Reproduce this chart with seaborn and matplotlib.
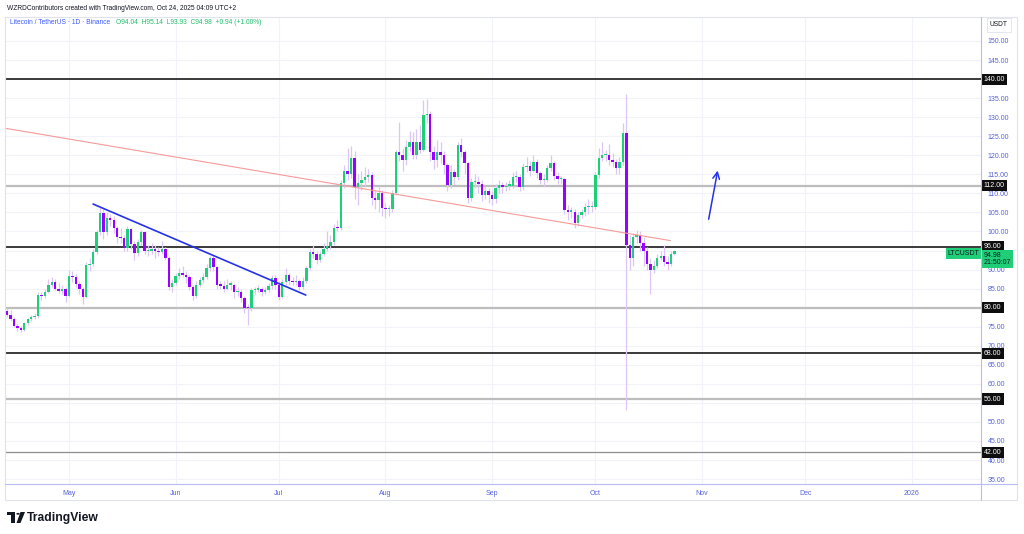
import numpy as np
import pandas as pd
import matplotlib
matplotlib.use("Agg")
import matplotlib.pyplot as plt
import matplotlib.dates as mdates
from matplotlib.lines import Line2D
from matplotlib.patches import Rectangle, Polygon, Circle
import seaborn as sns

# --- data (Apr 13 -> Oct 24, 2025) ---
start_date = "2025-04-13"
first_open = 79.0
closes = [
    78.1, 77.0, 75.3, 74.6, 74.2, 75.9, 76.9, 77.5, 77.8, 83.3,
    83.0, 84.2, 86.0, 86.8, 85.0, 84.4, 84.8, 83.0, 88.3, 88.0,
    86.2, 84.9, 82.8, 91.2, 91.5, 94.6, 99.8, 104.8, 99.8, 103.5,
    103.0, 100.8, 98.5, 98.3, 95.6, 100.6, 96.7, 94.3, 97.2, 99.8,
    94.8, 95.0, 95.5, 95.0, 94.5, 95.3, 93.0, 85.4, 86.5, 88.3,
    89.0, 88.5, 88.0, 85.4, 83.0, 86.0, 87.2, 88.0, 90.4, 93.0,
    90.7, 86.0, 85.8, 85.0, 86.0, 86.0, 84.0, 84.2, 82.5, 80.0,
    79.8, 84.6, 84.7, 85.0, 84.0, 84.5, 85.7, 87.8, 86.0, 82.8,
    86.7, 88.6, 87.0, 86.7, 87.0, 85.4, 87.0, 90.4, 94.6, 94.2,
    92.5, 94.2, 95.4, 96.2, 97.2, 101.0, 100.9, 112.7, 116.0, 115.0,
    119.3, 111.7, 112.6, 113.5, 114.4, 114.8, 108.8, 108.3, 110.1, 106.1,
    105.8, 105.8, 110.1, 120.8, 120.0, 118.7, 122.2, 123.5, 120.0, 123.5,
    121.5, 130.5, 130.8, 120.8, 118.7, 120.8, 120.2, 117.4, 112.2, 115.6,
    114.3, 122.7, 120.8, 118.0, 108.8, 113.0, 113.0, 112.5, 109.6, 110.5,
    109.6, 108.5, 111.4, 112.2, 111.6, 112.0, 112.0, 114.3, 114.3, 111.7,
    116.9, 117.2, 116.0, 118.2, 115.3, 113.5, 113.5, 116.6, 118.0, 114.6,
    113.8, 113.8, 105.6, 105.2, 105.2, 102.2, 104.3, 105.0, 106.4, 106.4,
    106.4, 114.8, 119.3, 120.0, 120.0, 118.8, 118.3, 116.6, 118.3, 125.8,
    96.4, 93.0, 98.5, 99.0, 97.0, 95.0, 91.4, 89.9, 91.0, 93.0,
    93.5, 92.0, 91.4, 94.04, 94.98,
]
highs = [
    80.0, 79.5, 77.5, 76.0, 75.2, 76.3, 77.4, 78.0, 78.5, 84.0,
    84.2, 85.0, 87.5, 88.0, 87.5, 86.5, 86.0, 85.5, 90.0, 89.5,
    88.8, 87.0, 85.5, 92.0, 93.0, 95.5, 100.5, 106.5, 106.0, 105.0,
    104.5, 104.0, 101.5, 101.0, 99.0, 101.5, 101.0, 97.5, 98.0, 100.5,
    100.0, 96.5, 97.0, 96.5, 96.0, 97.5, 96.0, 93.5, 87.5, 89.0,
    90.5, 91.0, 89.5, 88.5, 86.0, 87.0, 88.0, 89.0, 91.5, 93.5,
    93.5, 91.0, 87.0, 87.0, 87.5, 87.0, 86.5, 85.5, 84.8, 83.0,
    81.0, 85.2, 85.5, 86.0, 85.5, 85.5, 86.5, 88.5, 88.5, 87.0,
    87.5, 90.5, 89.0, 88.0, 88.5, 87.5, 88.0, 91.0, 95.5, 96.5,
    95.0, 95.0, 97.0, 100.0, 99.0, 102.0, 103.0, 113.5, 117.5, 122.0,
    122.5, 121.0, 115.0, 116.0, 117.0, 116.5, 115.5, 111.0, 112.0, 111.0,
    107.5, 107.0, 111.0, 121.5, 128.8, 122.0, 124.0, 126.5, 126.0, 127.0,
    128.0, 134.5, 134.7, 131.5, 122.5, 124.0, 123.5, 121.0, 118.0, 117.5,
    116.5, 123.5, 124.5, 121.5, 118.5, 114.0, 115.0, 114.5, 113.5, 112.0,
    111.5, 110.5, 112.5, 113.5, 113.0, 113.0, 113.5, 115.5, 116.0, 115.0,
    118.0, 119.5, 118.5, 120.0, 119.0, 116.0, 115.0, 117.5, 120.0, 118.5,
    115.5, 114.5, 114.0, 107.0, 106.5, 106.0, 105.0, 106.0, 107.5, 108.5,
    108.0, 115.5, 122.0, 123.5, 121.5, 123.0, 120.5, 119.0, 119.5, 128.5,
    136.0, 99.0, 99.5, 100.5, 100.0, 98.5, 96.0, 93.0, 92.5, 94.0,
    95.0, 96.5, 93.5, 95.0, 95.14,
]
lows = [
    77.5, 76.5, 74.8, 73.8, 73.5, 73.9, 75.5, 76.5, 77.0, 77.3,
    82.0, 82.5, 83.8, 85.5, 84.5, 83.8, 83.5, 81.5, 82.8, 86.8,
    85.5, 83.5, 81.0, 82.5, 89.5, 91.0, 94.0, 99.0, 98.0, 99.0,
    101.5, 99.5, 97.0, 97.0, 95.0, 95.0, 95.5, 92.5, 93.5, 96.5,
    94.0, 93.5, 94.0, 93.0, 93.5, 94.0, 92.5, 84.5, 84.0, 86.0,
    87.5, 88.0, 86.5, 84.5, 82.0, 82.5, 85.5, 86.5, 87.5, 89.5,
    89.5, 85.0, 85.0, 84.0, 84.5, 84.5, 82.5, 83.0, 81.5, 78.5,
    75.5, 79.0, 83.5, 84.0, 83.0, 83.5, 84.0, 85.0, 85.0, 82.0,
    82.5, 86.0, 86.0, 86.0, 86.0, 84.5, 85.0, 86.5, 90.0, 93.0,
    91.5, 92.0, 93.5, 95.0, 95.5, 96.5, 100.0, 100.5, 111.5, 113.5,
    114.0, 108.5, 107.0, 111.0, 112.0, 113.0, 107.0, 106.0, 105.0, 104.0,
    103.5, 104.0, 105.0, 109.5, 118.5, 116.0, 117.5, 121.0, 119.0, 119.0,
    120.5, 121.0, 128.5, 118.5, 116.5, 117.0, 118.0, 115.0, 110.5, 111.5,
    112.5, 113.5, 119.5, 115.0, 107.5, 108.0, 111.5, 110.0, 108.0, 108.5,
    107.5, 107.0, 107.5, 110.0, 110.0, 110.5, 111.0, 111.5, 113.0, 110.5,
    111.0, 115.5, 114.5, 115.5, 114.0, 112.5, 112.0, 113.0, 116.0, 113.5,
    112.5, 112.5, 104.5, 103.0, 103.5, 101.0, 101.5, 103.5, 104.0, 104.5,
    105.0, 106.0, 114.0, 118.5, 118.5, 117.5, 117.0, 115.0, 115.0, 117.5,
    53.0, 90.0, 91.0, 97.0, 95.0, 91.0, 90.0, 83.5, 89.0, 90.5,
    92.5, 91.0, 90.0, 91.0, 93.93,
]

# horizontal levels drawn on the chart
dark_levels = [140, 96, 68]
gray_levels = [112, 80, 56]
thin_levels = [42]

# trend lines (date, price)
blue_trend = [("2025-05-08 00:00", 107.2), ("2025-07-08 20:00", 83.3)]
red_trend = [("2025-04-12 10:00", 127.1), ("2025-10-22 19:00", 97.6)]
arrow_from = ("2025-11-02 19:00", 102.5)
arrow_to = ("2025-11-05 17:00", 116.7)

month_ticks = ["2025-05-01", "2025-06-01", "2025-07-01", "2025-08-01", "2025-09-01",
               "2025-10-01", "2025-11-01", "2025-12-01", "2026-01-01"]
month_labels = ["May", "Jun", "Jul", "Aug", "Sep", "Oct", "Nov", "Dec", "2026"]
price_ticks = list(range(35, 151, 5))
hidden_price_ticks = [140, 95, 80, 55]  # fully covered by tags in the reference

sns.set_theme(style="white")
plt.rcParams["font.family"] = ["Liberation Sans", "DejaVu Sans"]

GREEN = "#1fcf78"
PURPLE = "#9a00ff"
WICK = "#dcc6f6"
AXIS_TXT = "#5563e0"
LAV = "#b7bcf5"

W, H = 1024, 534
fig = plt.figure(figsize=(W / 100, H / 100), dpi=100)
fig.patch.set_facecolor("white")


def fx(px):
    return px / W


def fy(py):
    return 1 - py / H


ax = fig.add_axes([fx(5), fy(484), (981 - 5) / W, (484 - 17) / H])
ax.set_facecolor("white")

dates = pd.date_range(start_date, periods=len(closes), freq="D")
xs = mdates.date2num(dates)
opens = [first_open] + closes[:-1]

df = pd.DataFrame({"x": xs, "open": opens, "close": closes, "high": highs, "low": lows})
df["up"] = df["close"] >= df["open"]
df["bottom"] = df[["open", "close"]].min(axis=1)
df["height"] = (df["close"] - df["open"]).abs().clip(lower=0.35)

# wicks then bodies
ax.vlines(df["x"], df["low"], df["high"], color=WICK, lw=0.9, zorder=3)
ax.bar(df["x"], df["height"], bottom=df["bottom"], width=0.7,
       color=np.where(df["up"], GREEN, PURPLE), linewidth=0, zorder=4)

# horizontal levels
for lv in dark_levels:
    ax.axhline(lv, color="#2b2b2b", lw=1.3, zorder=2)
for lv in gray_levels:
    ax.axhline(lv, color="#bdbdbd", lw=1.6, zorder=2)
for lv in thin_levels:
    ax.axhline(lv, color="#8f8f8f", lw=0.9, zorder=2)

# trend lines
bx = mdates.date2num(pd.to_datetime([p[0] for p in blue_trend]))
ax.plot(bx, [p[1] for p in blue_trend], color="#2632e6", lw=1.2, zorder=5)
rx = mdates.date2num(pd.to_datetime([p[0] for p in red_trend]))
ax.plot(rx, [p[1] for p in red_trend], color="#f59a9a", lw=0.8, zorder=5)
ax.annotate("", xy=(mdates.date2num(pd.Timestamp(arrow_to[0])), arrow_to[1]),
            xytext=(mdates.date2num(pd.Timestamp(arrow_from[0])), arrow_from[1]),
            arrowprops=dict(arrowstyle="->", color="#2632e6", lw=1.1, mutation_scale=12),
            zorder=6)

base = mdates.date2num(pd.Timestamp(start_date))
ax.set_xlim(base - 0.6, base + 283.1)
ax.set_ylim(33.7, 156.3)

# axes / grid
ax.yaxis.tick_right()
ax.set_yticks(price_ticks)
ax.set_yticklabels(["" if v in hidden_price_ticks else f"{v:.2f}" for v in price_ticks])
ax.set_xticks(mdates.date2num(pd.to_datetime(month_ticks)))
ax.set_xticklabels(month_labels)
ax.tick_params(axis="y", length=0, pad=5, labelsize=5.0, labelcolor=AXIS_TXT)
ax.tick_params(axis="x", length=0, pad=4, labelsize=5.0, labelcolor=AXIS_TXT)
ax.grid(True, color="#f1f3f9", lw=0.8, zorder=0)
for s in ax.spines.values():
    s.set_visible(False)

# level tags on price scale
ytr = ax.get_yaxis_transform()
for lv in dark_levels + gray_levels + thin_levels:
    ax.text(1.003, lv, f"{lv:.2f}", transform=ytr, ha="left", va="center", color="white",
            fontsize=5.0, clip_on=False, zorder=20,
            bbox=dict(boxstyle="square,pad=0.3", fc="#0e0e0e", ec="none"))
last = closes[-1]
ax.text(0.9985, last - 0.8, "LTCUSDT", transform=ytr, ha="right", va="center", color="#131722",
        fontsize=5.0, clip_on=False, zorder=21,
        bbox=dict(boxstyle="square,pad=0.3", fc=GREEN, ec="none"))
ax.text(1.003, last - 2.2, f"{last:.2f}\n21:50:07", transform=ytr, ha="left", va="center",
        color="#131722", fontsize=5.0, linespacing=1.1, clip_on=False, zorder=21,
        bbox=dict(boxstyle="square,pad=0.3", fc=GREEN, ec="none"))

# frame lines
frame = [
    ((5, 17), (1017, 17), "#e0e3eb"),
    ((5, 17), (5, 500), "#e0e3eb"),
    ((5, 500), (1017, 500), "#e0e3eb"),
    ((1017, 17), (1017, 500), "#e0e3eb"),
    ((5, 484), (1017, 484), LAV),
    ((981, 17), (981, 500), LAV),
]
for (x0, y0), (x1, y1), c in frame:
    fig.add_artist(Line2D([fx(x0), fx(x1)], [fy(y0), fy(y1)], color=c, lw=0.8))

# USDT box
fig.text(fx(999), fy(25), "USDT", ha="center", va="center", fontsize=4.8, color="#131722",
         bbox=dict(boxstyle="square,pad=0.5", fc="white", ec="#e0e3eb", lw=0.6))

# header
fig.text(fx(7), fy(8), "WZRDContributors created with TradingView.com, Oct 24, 2025 04:09 UTC+2",
         ha="left", va="center", fontsize=4.8, color="#131722")
t1 = fig.text(fx(10), fy(23), "Litecoin / TetherUS \u00b7 1D \u00b7 Binance", ha="left", va="center",
              fontsize=4.8, color="#3d5afe")
renderer = fig.canvas.get_renderer()
x_end = t1.get_window_extent(renderer).x1
fig.text((x_end + 6) / W, fy(23), "O94.04  H95.14  L93.93  C94.98  +0.94 (+1.00%)", ha="left",
         va="center", fontsize=4.8, color="#1fbf6a")

# TradingView footer logo
logo = [
    Rectangle((fx(7), fy(515)), fx(8), 3 / H, transform=fig.transFigure, fc="#131722", ec="none"),
    Rectangle((fx(11), fy(523)), fx(4), 8 / H, transform=fig.transFigure, fc="#131722", ec="none"),
    Circle((fx(18), fy(513.8)), 1.7 / W, transform=fig.transFigure, fc="#131722", ec="none"),
    Polygon([(fx(20.5), fy(512)), (fx(25), fy(512)), (fx(20.5), fy(523)), (fx(16.5), fy(523))],
            closed=True, transform=fig.transFigure, fc="#131722", ec="none"),
]
for p in logo:
    fig.add_artist(p)
fig.text(fx(27), fy(517.5), "TradingView", ha="left", va="center", fontsize=8.7,
         fontweight="bold", color="#131722")

fig.savefig("out.png", dpi=100, facecolor="white")
